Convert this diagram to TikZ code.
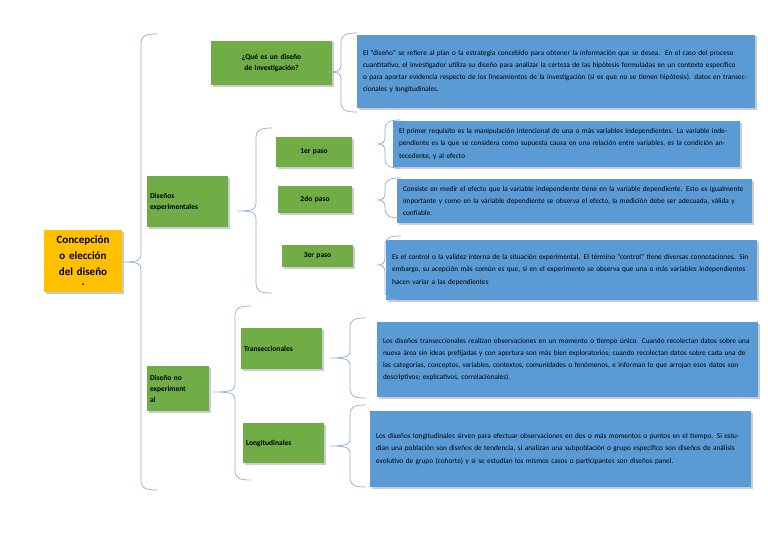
\documentclass[tikz,border=0pt]{standalone}
\usepackage{fontspec}
\setmainfont{Carlito}
\usetikzlibrary{shadows}
\definecolor{grn}{HTML}{70AD47}
\definecolor{blu}{HTML}{5B9BD5}
\definecolor{gold}{HTML}{FFC000}
\definecolor{brc}{HTML}{8FAADC}
\tikzset{
 box/.style={anchor=north west,inner sep=3pt,outer sep=0pt,drop shadow={shadow xshift=1.5pt,shadow yshift=-1.5pt,opacity=0.4}},
 g/.style={box,fill=grn,font=\bfseries\fontsize{7.5}{11}\selectfont,align=left},
 b/.style={box,fill=blu,font=\fontsize{7.3}{12.2}\selectfont,align=left,inner xsep=6pt},
 brace/.style={draw=brc,line width=0.7pt},
}
% brace: #1 x, #2 top, #3 bottom, #4 tip y, #5 tip x
\newcommand{\mybrace}[5]{\draw[brace] (#1+16,#2) .. controls (#1+4,#2) and (#1,#2+2) .. (#1,#2+10) -- (#1,#4-8) .. controls (#1,#4-2) and (#1-2,#4) .. (#5,#4) .. controls (#1-2,#4) and (#1,#4+2) .. (#1,#4+8) -- (#1,#3-10) .. controls (#1,#3-2) and (#1+4,#3) .. (#1+16,#3);}
\begin{document}
\begin{tikzpicture}[x=1pt,y=-1pt]
\useasboundingbox (0,0) rectangle (768,543);
% green boxes
\node[box,fill=gold,minimum width=78pt,minimum height=62pt,font=\bfseries\fontsize{11}{16}\selectfont,align=center,text width=72pt] (root) at (44,230) {Concepción o elección del diseño\\[-6pt].};
\node[g,minimum width=121pt,minimum height=44pt,text width=115pt,align=center] (q) at (211,41) {¿Qué es un diseño de investigación?\vphantom{g}\\[8pt]};
\node[g,minimum width=81pt,minimum height=51pt,text width=75pt] (exp) at (147,176) {Diseños\\experimentales\\[14pt]};
\node[g,minimum width=76pt,minimum height=30pt,text width=70pt,align=center] (p1) at (276,137) {1er paso\\[6pt]};
\node[g,minimum width=74pt,minimum height=27pt,text width=68pt,align=center] (p2) at (278,186) {2do paso\\[4pt]};
\node[g,minimum width=71pt,minimum height=22pt,text width=65pt,align=center] (p3) at (282,245) {3er paso};
\node[g,minimum width=62pt,minimum height=45pt,text width=56pt] (nexp) at (147,366) {Diseño no\\experiment\\al};
\node[g,minimum width=81pt,minimum height=41pt,text width=75pt] (tr) at (241,328) {Transeccionales\\[14pt]};
\node[g,minimum width=81pt,minimum height=40pt,text width=75pt] (lo) at (243,423) {Longitudinales\\[14pt]};
% blue boxes
\node[b,minimum width=398pt,minimum height=73pt,text width=386pt] (tq) at (357,35) {El "diseño" se refiere al plan o la estrategia concebido para obtener la información que se desea.\ \ En el caso del proceso cuantitativo, el investigador utiliza su diseño para analizar la certeza de las hipótesis formuladas en un contexto específico o para aportar evidencia respecto de los lineamientos de la investigación (si es que no se tienen hipótesis). datos en transeccionales y longitudinales.};
\node[b,minimum width=347pt,minimum height=46pt,text width=335pt] (t1) at (393,121) {El primer requisito es la manipulación intencional de una o más variables independientes. La variable independiente es la que se considera como supuesta causa en una relación entre variables, es la condición antecedente, y al efecto};
\node[b,minimum width=355pt,minimum height=44pt,text width=343pt] (t2) at (397,179) {Consiste en medir el efecto que la variable independiente tiene en la variable dependiente. Esto es igualmente importante y como en la variable dependiente se observa el efecto, la medición debe ser adecuada, válida y confiable.};
\node[b,minimum width=371pt,minimum height=60pt,text width=359pt] (t3) at (386,240) {Es el control o la validez interna de la situación experimental. El término "control" tiene diversas connotaciones. Sin embargo, su acepción más común es que, si en el experimento se observa que una o más variables independientes hacen variar a las dependientes};
\node[b,minimum width=381pt,minimum height=75pt,text width=369pt,anchor=north west] (tt) at (377,322) {Los diseños transeccionales realizan observaciones en un momento o tiempo único. Cuando recolectan datos sobre una nueva área sin ideas prefijadas y con apertura son más bien exploratorios; cuando recolectan datos sobre cada una de las categorías, conceptos, variables, contextos, comunidades o fenómenos, e informan lo que arrojan esos datos son descriptivos; explicativos, correlacionales).};
\node[b,minimum width=381pt,minimum height=76pt,text width=369pt] (tl) at (370,411) {Los diseños longitudinales sirven para efectuar observaciones en dos o más momentos o puntos en el tiempo. Si estudian una población son diseños de tendencia, si analizan una subpoblación o grupo específico son diseños de análisis evolutivo de grupo (cohorte) y si se estudian los mismos casos o participantes son diseños panel.\\[12pt]};
% braces
\mybrace{141}{34}{490}{262}{123}
\mybrace{341}{33}{112}{72}{328}
\mybrace{256}{128}{293}{211}{238}
\mybrace{235}{306}{480}{392}{213}
\mybrace{385}{120}{168}{144}{378}
\mybrace{385}{178}{218}{200}{378}
\mybrace{385}{236}{300}{265}{378}
\mybrace{350}{318}{398}{358}{330}
\mybrace{350}{405}{487}{446}{330}
\end{tikzpicture}
\end{document}
